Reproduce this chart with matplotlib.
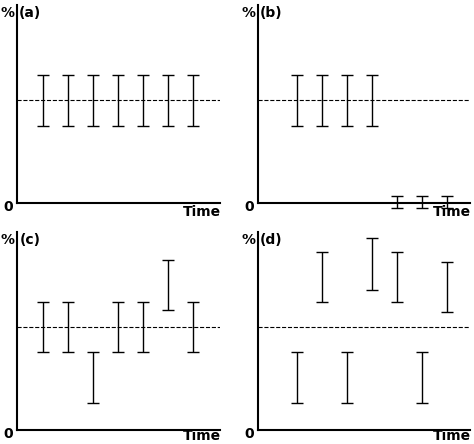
import matplotlib
matplotlib.use('Agg')
import matplotlib.pyplot as plt

W, H = 474, 444

# bar positions (index) and low/high values for each panel
x_a = [1, 2, 3, 4, 5, 6, 7]
low_a = [77, 77, 77, 77, 77, 77, 77]
high_a = [128, 128, 128, 128, 128, 128, 128]

x_b = [1, 2, 3, 4, 5, 6, 7]
low_b = [77, 77, 77, 77, -5, -5, -5]
high_b = [128, 128, 128, 128, 7, 7, 7]

x_c = [1, 2, 3, 4, 5, 6, 7]
low_c = [78, 78, 27, 78, 78, 120, 78]
high_c = [128, 128, 78, 128, 128, 170, 128]

x_d = [1, 2, 3, 4, 5, 6, 7]
low_d = [27, 128, 27, 140, 128, 27, 118]
high_d = [78, 178, 78, 192, 178, 78, 168]

ref_level = 103
panels = [
    ('(a)', x_a, low_a, high_a, 17, 220, 203),
    ('(b)', x_b, low_b, high_b, 258, 470, 203),
    ('(c)', x_c, low_c, high_c, 17, 220, 430),
    ('(d)', x_d, low_d, high_d, 258, 470, 430),
]

fig = plt.figure(figsize=(W / 100, H / 100), dpi=100)
for label, xs, lo, hi, left, right, base in panels:
    height = 198
    ax = fig.add_axes([left / W, (H - base) / H, (right - left) / W, height / H])
    first = 26 if left < 100 else 39
    xmin = 1 - first / 25
    ax.set_xlim(xmin, xmin + (right - left) / 25)
    ax.set_ylim(0, height)
    mid = [(a + b) / 2 for a, b in zip(lo, hi)]
    err = [(b - a) / 2 for a, b in zip(lo, hi)]
    ax.errorbar(xs, mid, yerr=err, fmt='none', ecolor='black',
                elinewidth=1, capsize=4, capthick=1, clip_on=False)
    ax.axhline(ref_level, color='black', linestyle='--', linewidth=0.8)
    for s in ['top', 'right']:
        ax.spines[s].set_visible(False)
    ax.spines['left'].set_linewidth(1.5)
    ax.spines['bottom'].set_linewidth(1.5)
    ax.set_xticks([])
    ax.set_yticks([])
    top = base - height
    fig.text((left - 9) / W, 1 - (top + 8) / H, '%', fontsize=10,
             fontweight='bold', ha='center', va='center')
    fig.text((left + 13) / W, 1 - (top + 8) / H, label, fontsize=10,
             fontweight='bold', ha='center', va='center')
    fig.text((left - 9) / W, 1 - (base + 4) / H, '0', fontsize=10,
             fontweight='bold', ha='center', va='center')
    fig.text((right - 18) / W, 1 - min(base + 9, H - 8) / H, 'Time',
             fontsize=10, fontweight='bold', ha='center', va='center')

fig.savefig('out.png', dpi=100)
